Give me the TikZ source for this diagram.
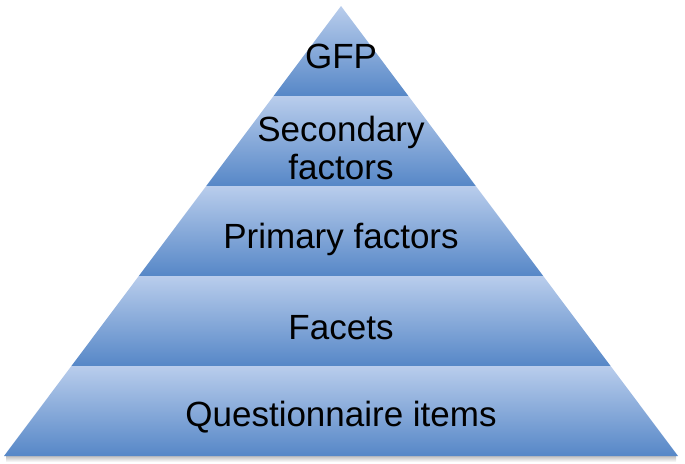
\documentclass[tikz,border=0pt]{standalone}
\usepackage{fontspec}
\setmainfont{Liberation Sans}
\definecolor{bandtop}{RGB}{185,205,236}
\definecolor{bandbot}{RGB}{86,135,199}
\begin{document}
\begin{tikzpicture}[x=1pt,y=-1pt,
  band/.style={top color=bandtop,bottom color=bandbot},
  label/.style={font=\fontsize{35}{38}\selectfont,text=black,align=center,inner sep=0pt}]
\useasboundingbox (0,0) rectangle (685,463);
% shadow under base
\shade[top color=black!25,bottom color=white] (6,456) rectangle (676,462);
% bands
\shade[band] (341,6) -- (408.4,96) -- (273.6,96) -- cycle;
\shade[band] (273.6,96) -- (408.4,96) -- (475.8,186) -- (206.2,186) -- cycle;
\shade[band] (206.2,186) -- (475.8,186) -- (543.2,276) -- (138.8,276) -- cycle;
\shade[band] (138.8,276) -- (543.2,276) -- (610.6,366) -- (71.4,366) -- cycle;
\shade[band] (71.4,366) -- (610.6,366) -- (678,456) -- (4,456) -- cycle;
% labels
\node[label] (gfp) at (341,56) {GFP};
\node[label] (sec) at (341,148) {Secondary\\factors};
\node[label] (prim) at (341,239) {Primary factors};
\node[label] (fac) at (341,328) {Facets};
\node[label] (items) at (341,417) {Questionnaire items};
\end{tikzpicture}
\end{document}
